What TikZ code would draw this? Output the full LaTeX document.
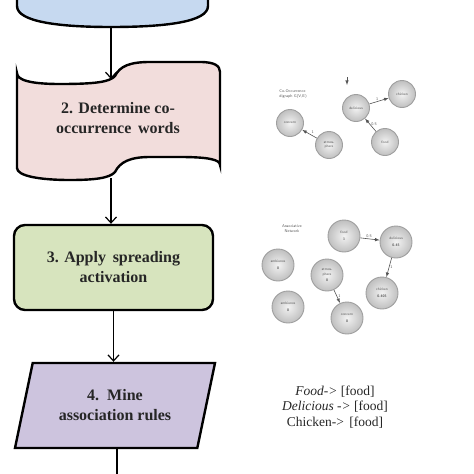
\documentclass[tikz,border=0pt]{standalone}
\usepackage{fontspec}
\setmainfont{Liberation Serif}
\usepackage{tikz}
\usetikzlibrary{arrows,arrows.meta,shapes.geometric,calc,positioning}

\definecolor{boxblue}{RGB}{198,217,240}
\definecolor{boxpink}{RGB}{242,221,220}
\definecolor{boxgreen}{RGB}{215,228,190}
\definecolor{boxlilac}{RGB}{205,196,222}
\definecolor{inkgray}{RGB}{85,85,85}

\tikzset{
  stepline/.style={line width=2.4pt, draw=black},
  steptext/.style={font=\fontsize{16}{20}\selectfont\bfseries, text=black!85, align=center},
  flow/.style={line width=1.2pt, -{Straight Barb[length=6pt,width=11pt]}},
  ball/.style={circle, draw=gray!75, line width=0.9pt, inner color=gray!10, outer color=gray!50,
    inner sep=0pt, font=\fontsize{3.6}{4.6}\selectfont\sffamily, text=inkgray, align=center},
  smallball/.style={ball, minimum size=27pt},
  bigball/.style={ball, minimum size=32pt},
  link/.style={draw=inkgray, line width=0.6pt, -latex},
  tag/.style={font=\fontsize{4}{5}\selectfont\sffamily, text=inkgray, inner sep=1pt}
}

\begin{document}
\begin{tikzpicture}[x=1pt,y=-1pt]
\useasboundingbox (0,0) rectangle (474,474);

% 1. start shape (cut off at the top)
\draw[stepline, fill=boxblue]
     (17,-5) -- (17,6) .. controls (17,22) and (60,27) .. (111,27)
     .. controls (165,27) and (208,22) .. (208,6) -- (208,-5);
\coordinate (s1) at (111,27);

% 2. tape shape
\draw[stepline, fill=boxpink]
     (17,73) .. controls (17,80) and (30,84) .. (60,84)
     .. controls (95,84) and (110,82) .. (115,76)
     .. controls (120,66) and (130,62) .. (150,62) -- (200,62)
     .. controls (215,62) and (220,66) .. (220,72) -- (220,165)
     .. controls (220,160) and (210,157) .. (180,157) -- (150,157)
     .. controls (130,157) and (120,162) .. (115,172)
     .. controls (110,178) and (95,180) .. (70,180)
     .. controls (40,180) and (17,176) .. (17,168) -- cycle;
\node[steptext] (s2) at (118,118) {2. Determine co-\\occurrence\, words};
\coordinate (s2in) at (111,79);
\coordinate (s2out) at (111,178);

% 3. and 4.
\node[rectangle, rounded corners=11pt, stepline, fill=boxgreen,
      minimum width=199pt, minimum height=85pt, steptext] (s3) at (113.5,267.5)
     {3. Apply\, spreading\\activation};
\node[trapezium, trapezium left angle=65, trapezium right angle=115,
      trapezium stretches body, stepline, fill=boxlilac,
      minimum width=200pt, minimum height=85pt, steptext] (s4) at (115,405.5)
     {4.\, Mine\\association rules};
\coordinate (s5) at (117,476);

\draw[flow] (s1) -- (s2in);
\draw[flow] (s2out) -- (s3.north -| s2out);
\draw[flow] (s3.south) -- (s4.north -| s3.south);
\draw[line width=1.2pt] (s4.south -| s5) -- (s5);

% co-occurrence digraph
\node[tag, align=left] (cotitle) at (293,94) {Co-Occurrence\\digraph G(V,E)};
\node[smallball] (cdel) at (356,108) {delicious};
\node[smallball] (cchi) at (402,94) {chicken};
\node[smallball] (ccon) at (290,123) {concern};
\node[smallball] (catm) at (329,145) {atmos-\\phere};
\node[smallball] (cfoo) at (385,142) {food};
\coordinate (cin1) at (347,77);
\coordinate (cin2) at (347,85);
\draw[link] (cin1) -- (cin2);
\draw[link] (cdel) -- node[tag, above, pos=0.4] {1} (cchi);
\draw[link] (cfoo) -- node[tag, right, pos=0.55] {0.5} (cdel);
\draw[link] (catm) -- node[tag, above right, pos=0.45] {1} (ccon);

% associative network
\node[tag, align=center] (astitle) at (292,229) {Associative\\Network};
\node[bigball] (afoo) at (344,236) {food\\[2pt]\textbf{1}};
\node[bigball] (adel) at (396,242) {delicious\\[2pt]\textbf{0.45}};
\node[bigball] (aamb) at (278,265) {ambience\\[2pt]\textbf{0}};
\node[bigball] (aatm) at (327,275) {atmos-\\phere\\[1pt]\textbf{0}};
\node[bigball] (achi) at (382,293) {chicken\\[2pt]\textbf{0.405}};
\node[bigball] (aamc) at (288,307) {ambience\\[2pt]\textbf{0}};
\node[bigball] (acon) at (347,318) {concern\\[2pt]\textbf{0}};
\draw[link] (afoo) -- node[tag, above, pos=0.45] {0.5} (adel);
\draw[link] (adel) -- node[tag, right, pos=0.5] {1} (achi);
\draw[link] (aatm) -- node[tag, right, pos=0.5] {1} (acon);

% mined rules
\node[font=\fontsize{13.5}{15.5}\selectfont, align=center, text=black!85] (rules) at (335,407)
     {\textit{Food->} [food]\\ \textit{Delicious ->} [food]\\ Chicken->\, [food]};
\end{tikzpicture}
\end{document}
